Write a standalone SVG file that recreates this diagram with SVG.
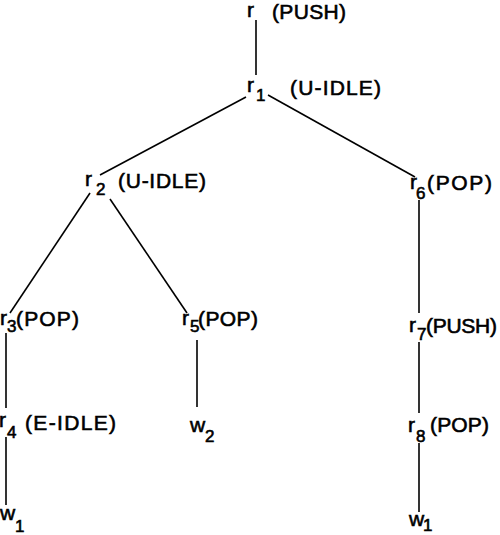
<svg xmlns="http://www.w3.org/2000/svg" width="500" height="535" viewBox="0 0 500 535">
<style>
text{font-family:"Liberation Sans","DejaVu Sans",sans-serif;fill:#000;stroke:#000;stroke-width:0.6}
.m{font-size:21px}
.s{font-size:17px}
.l{font-size:21px;letter-spacing:1px}
#edges line{stroke:#000;stroke-width:1.6}
</style>
<rect width="500" height="535" fill="#fff"/>
<g id="edges">
<line x1="256" y1="20" x2="256" y2="75"/>
<line x1="246" y1="97" x2="100" y2="175"/>
<line x1="268" y1="95" x2="415" y2="177"/>
<line x1="90" y1="193" x2="10" y2="313"/>
<line x1="110" y1="199" x2="187" y2="313"/>
<line x1="6" y1="333" x2="6" y2="408"/>
<line x1="6" y1="437" x2="6" y2="505"/>
<line x1="197" y1="340" x2="197" y2="407"/>
<line x1="419" y1="200" x2="419" y2="313"/>
<line x1="419" y1="342" x2="419" y2="413"/>
<line x1="419" y1="443" x2="419" y2="512"/>
</g>
<g id="r0"><text class="m" x="247" y="17">r</text><text class="l" x="272" y="19" textLength="75" lengthAdjust="spacing">(PUSH)</text></g>
<g id="r1"><text class="m" x="247" y="92">r</text><text class="s" x="256" y="101">1</text><text class="l" x="290" y="95" textLength="92" lengthAdjust="spacing">(U-IDLE)</text></g>
<g id="r2"><text class="m" x="85" y="186">r</text><text class="s" x="96" y="195">2</text><text class="l" x="118" y="188" textLength="89" lengthAdjust="spacing">(U-IDLE)</text></g>
<g id="r3"><text class="m" x="0" y="325">r</text><text class="s" x="7" y="332">3</text><text class="l" x="16" y="326" textLength="64" lengthAdjust="spacing">(POP)</text></g>
<g id="r4"><text class="m" x="-1" y="427">r</text><text class="s" x="7" y="438">4</text><text class="l" x="25" y="430" textLength="92" lengthAdjust="spacing">(E-IDLE)</text></g>
<g id="w1a"><text class="m" x="0" y="520">w</text><text class="s" x="15" y="532">1</text></g>
<g id="r5"><text class="m" x="182" y="325">r</text><text class="s" x="190" y="332">5</text><text class="l" x="198" y="326" textLength="61" lengthAdjust="spacing">(POP)</text></g>
<g id="w2"><text class="m" x="190" y="432">w</text><text class="s" x="205" y="442">2</text></g>
<g id="r6"><text class="m" x="410" y="189">r</text><text class="s" x="416" y="199">6</text><text class="l" x="427" y="190" textLength="66" lengthAdjust="spacing">(POP)</text></g>
<g id="r7"><text class="m" x="409" y="332">r</text><text class="s" x="417" y="340">7</text><text class="l" x="426" y="333" textLength="72" lengthAdjust="spacing">(PUSH)</text></g>
<g id="r8"><text class="m" x="408" y="432">r</text><text class="s" x="416" y="442">8</text><text class="l" x="430" y="432" textLength="60" lengthAdjust="spacing">(POP)</text></g>
<g id="w1b"><text class="m" x="409" y="526">w</text><text class="s" x="423" y="531">1</text></g>
</svg>
